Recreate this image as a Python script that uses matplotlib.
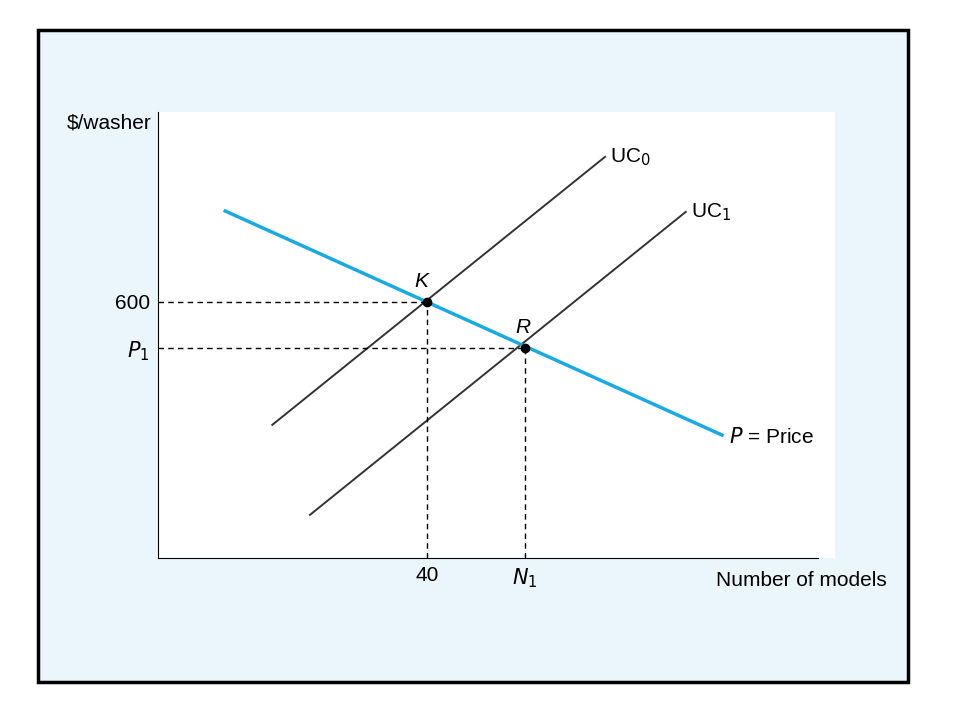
import matplotlib
matplotlib.use("Agg")
import matplotlib.pyplot as plt
from matplotlib.patches import Rectangle

plt.rcParams['font.family'] = ['Liberation Sans Narrow', 'Liberation Sans', 'DejaVu Sans']

price_x = [10.0, 83.9]; price_y = [813, 288]
uc0_x = [17.0, 66.5]; uc0_y = [312, 940]
uc1_x = [22.6, 78.5]; uc1_y = [101, 811]
K = (40, 600); R = (54.6, 492)

fig = plt.figure(figsize=(9.6, 7.2), dpi=100)
fig.patch.set_facecolor('white')
fig.add_artist(Rectangle((38/960, 1-682/720), 870/960, 652/720, transform=fig.transFigure,
                         facecolor='#EAF6FC', edgecolor='black', lw=2.5, zorder=-10))
ax = fig.add_axes([158/960, 162/720, 677/960, 446/720])
ax.set_zorder(5)
ax.set_facecolor('white')
ax.set_xlim(0, 100.7); ax.set_ylim(0, 1045)
for s in ['top', 'right']:
    ax.spines[s].set_visible(False)
ax.spines['bottom'].set_bounds(0, 98.1)

ax.plot(uc0_x, uc0_y, color='#333333', lw=1.4)
ax.plot(uc1_x, uc1_y, color='#333333', lw=1.4)
ax.plot(price_x, price_y, color='#1BA9E1', lw=2.5)
for (px, py) in [K, R]:
    ax.plot([0, px], [py, py], 'k--', lw=1, dashes=(4, 3))
    ax.plot([px, px], [0, py], 'k--', lw=1, dashes=(4, 3))
ax.plot([K[0], R[0]], [K[1], R[1]], 'ko', ms=6, zorder=5)

ax.set_xticks([K[0], R[0]]); ax.set_xticklabels(['40', r'$N_1$'], fontsize=15)
ax.set_yticks([K[1], R[1]]); ax.set_yticklabels(['600', r'$P_1$'], fontsize=15)
ax.tick_params(length=0, pad=6)

ax.text(K[0]-0.8, K[1]+25, 'K', style='italic', fontsize=15, ha='center', va='bottom')
ax.text(R[0]-0.3, R[1]+25, 'R', style='italic', fontsize=15, ha='center', va='bottom')
ax.text(uc0_x[1]+0.8, uc0_y[1], r'UC$_0$', fontsize=15, va='center')
ax.text(uc1_x[1]+0.8, uc1_y[1], r'UC$_1$', fontsize=15, va='center')
ax.text(price_x[1]+1, price_y[1]-5, r'$P$ = Price', fontsize=15, va='center')
fig.text(152/960, 1-123/720, '\\$/washer', fontsize=15, ha='right', va='center')
fig.text(887/960, 1-580/720, 'Number of models', fontsize=15, ha='right', va='center')

fig.savefig('out.png', dpi=100, facecolor=fig.get_facecolor())
